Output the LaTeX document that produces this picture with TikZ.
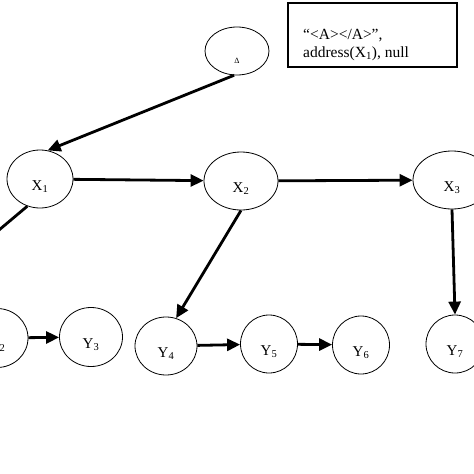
\documentclass[tikz,border=0pt]{standalone}
\usepackage{fontspec}
\setmainfont{Liberation Serif}
\usetikzlibrary{shapes.geometric,arrows.meta}
\newcommand{\lowlab}[1]{\raisebox{-11pt}[0pt][0pt]{#1}}
\begin{document}
\begin{tikzpicture}[x=1pt,y=-1pt,
  ell/.style={draw,ellipse,line width=0.8pt,inner sep=0pt,font=\fontsize{15}{16}\selectfont},
  arr/.style={line width=2.8pt,-{Triangle[length=13pt,width=12pt]}},
  plain/.style={line width=2.8pt}]
\useasboundingbox (0,0) rectangle (474,474);
\clip (0,0) rectangle (474,474);
\fill[white] (0,0) rectangle (474,474);
% nodes
\node[ell,minimum width=64pt,minimum height=48pt] (D) at (237,51) {\raisebox{-12pt}[0pt][0pt]{\fontsize{8}{8}\selectfont Δ}};
\node[ell,minimum width=66pt,minimum height=58pt] (X1) at (40,179) {\lowlab{X\textsubscript{1}}};
\node[ell,minimum width=74pt,minimum height=58pt] (X2) at (241,181) {\lowlab{X\textsubscript{2}}};
\node[ell,minimum width=78pt,minimum height=58pt] (X3) at (452,180) {\lowlab{X\textsubscript{3}}};
\node[ell,minimum width=62pt,minimum height=59pt] (Y2) at (-3,338) {\lowlab{Y\textsubscript{2}}};
\node[ell,minimum width=63pt,minimum height=59pt] (Y3) at (91,337) {\lowlab{Y\textsubscript{3}}};
\node[ell,minimum width=62pt,minimum height=58pt] (Y4) at (166,346) {\lowlab{Y\textsubscript{4}}};
\node[ell,minimum width=57pt,minimum height=58pt] (Y5) at (269,344) {\lowlab{Y\textsubscript{5}}};
\node[ell,minimum width=57pt,minimum height=58pt] (Y6) at (361,345) {\lowlab{Y\textsubscript{6}}};
\node[ell,minimum width=58pt,minimum height=58pt] (Y7) at (455,344) {\lowlab{Y\textsubscript{7}}};
% box
\node[draw,line width=1.2pt,minimum width=169pt,minimum height=64pt,inner sep=0pt] (B) at (372.5,35) {};
\node[anchor=west,align=left,inner sep=0pt,font=\fontsize{15.5}{18}\selectfont] (T) at (303,45) {“<A></A>”,\\address(X\textsubscript{1}), null};
% connectors
\coordinate (Y1end) at (-20,246);
\draw[arr] (D.263) -- (X1.75);
\draw[plain] (X1.245) -- (Y1end);
\draw[arr] (X1) -- (X2);
\draw[arr] (X2) -- (X3);
\draw[arr] (X2.south) -- (Y4.70);
\draw[arr] (X3.south) -- (Y7.north);
\draw[arr] (Y2) -- (Y3);
\draw[arr] (Y4) -- (Y5);
\draw[arr] (Y5) -- (Y6);
\end{tikzpicture}
\end{document}
